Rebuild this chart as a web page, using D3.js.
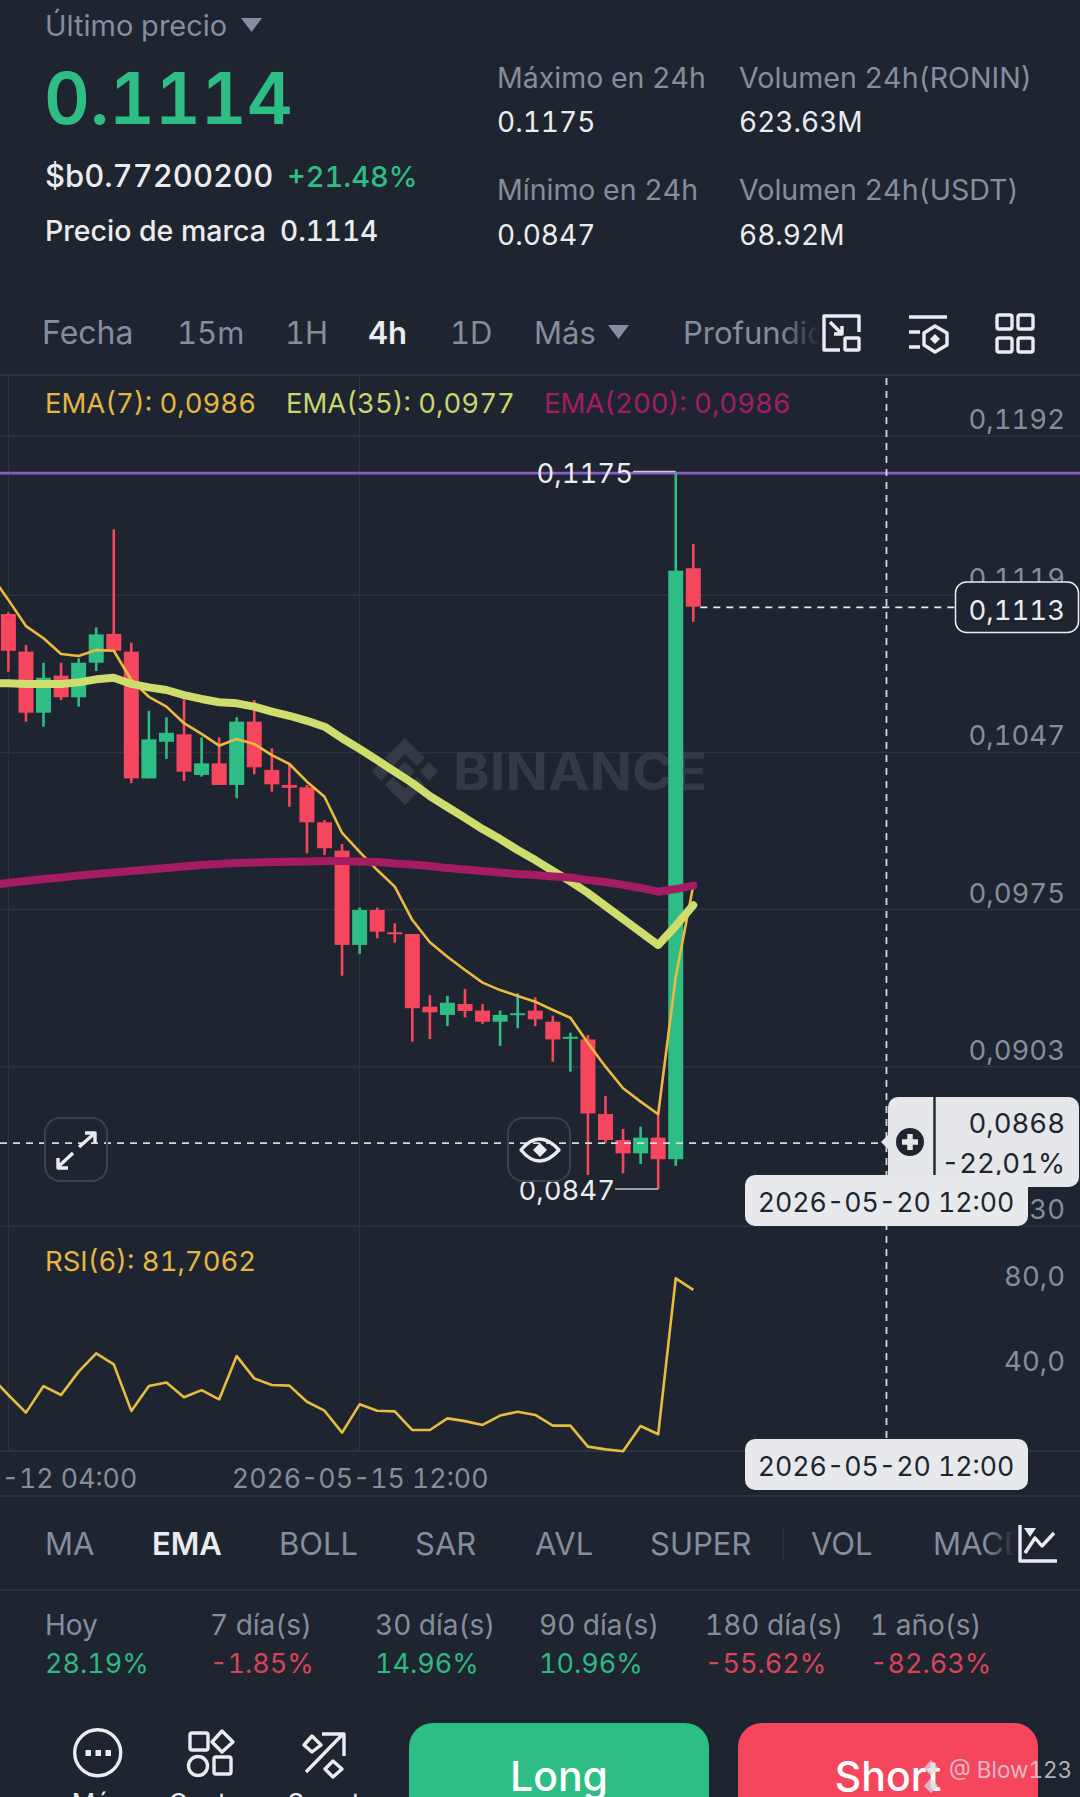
<!DOCTYPE html>
<html>
<head>
<meta charset="utf-8">
<style>
  html, body { margin: 0; padding: 0; background: #1e2530; }
  svg { display: block; font-family: Inter, "Noto Sans", sans-serif; font-variant-numeric: tabular-nums; font-feature-settings: "tnum"; }
  .grey { fill: #848e9c; }
  .white { fill: #eaecef; }
  .axis text { fill: #848e9c; font-size: 27.5px; font-family: Inter, "Noto Sans", sans-serif; }
  .axis .domain { display: none; }
  .icon { fill: none; stroke: #eaecef; stroke-width: 3.4; stroke-linejoin: round; }
</style>
</head>
<body>
<svg width="1080" height="1797"></svg>
<script src="https://cdn.jsdelivr.net/npm/d3@7/dist/d3.min.js"></script>
<script>
  // candles, oldest first. index 0 = 2026-05-12 04:00, 4h apart
  var opens = [0.11104,0.10932,0.10652,0.10822,0.10723,0.10881,0.11013,0.10932,0.10351,0.10519,0.10553,0.10367,0.10420,0.10321,0.10611,0.10390,0.10321,0.10310,0.10150,0.10020,0.09588,0.09748,0.09646,0.09638,0.09305,0.09267,0.09317,0.09287,0.09236,0.09267,0.09287,0.09236,0.09160,0.09155,0.08813,0.08694,0.08633,0.08705,0.08606,0.11314];
  var closes = [0.10936,0.10652,0.10812,0.10723,0.10881,0.11011,0.10936,0.10351,0.10530,0.10560,0.10382,0.10420,0.10321,0.10611,0.10402,0.10324,0.10308,0.10150,0.10031,0.09588,0.09748,0.09649,0.09638,0.09298,0.09279,0.09323,0.09285,0.09236,0.09267,0.09275,0.09247,0.09155,0.09167,0.08816,0.08694,0.08633,0.08705,0.08606,0.11303,0.11138];
  var highs = [0.11112,0.10962,0.10881,0.10881,0.10901,0.11043,0.11492,0.10973,0.10661,0.10631,0.10713,0.10539,0.10539,0.10631,0.10710,0.10489,0.10412,0.10321,0.10160,0.10050,0.09759,0.09759,0.09687,0.09638,0.09358,0.09355,0.09386,0.09317,0.09287,0.09366,0.09348,0.09264,0.09186,0.09175,0.08896,0.08745,0.08755,0.08809,0.1175,0.11425];
  var lows = [0.10840,0.10611,0.10588,0.10710,0.10680,0.10843,0.10932,0.10329,0.10351,0.10440,0.10339,0.10359,0.10321,0.10260,0.10370,0.10290,0.10221,0.10008,0.10000,0.09447,0.09546,0.09618,0.09598,0.09145,0.09157,0.09216,0.09256,0.09226,0.09125,0.09206,0.09216,0.09053,0.09007,0.08534,0.08679,0.08541,0.08584,0.0847,0.08575,0.11069];

  // moving averages start one candle before the left edge (index -1)
  var ema7 = [0.11283,0.11169,0.11049,0.10993,0.10921,0.10912,0.10939,0.10936,0.10802,0.10725,0.10680,0.10604,0.10555,0.10501,0.10532,0.10509,0.10458,0.10417,0.10336,0.10267,0.10101,0.10014,0.09931,0.09855,0.09702,0.09600,0.09534,0.09473,0.09415,0.09381,0.09354,0.09328,0.09290,0.09254,0.09139,0.09030,0.08931,0.08870,0.08812,0.09442,0.0986];
  var ema35 = [0.10788,0.10787,0.10784,0.10784,0.10784,0.10791,0.10805,0.10812,0.10784,0.10768,0.10756,0.10733,0.10715,0.10700,0.10695,0.10680,0.10657,0.10638,0.10615,0.10588,0.10535,0.10486,0.10435,0.10382,0.10330,0.10270,0.10220,0.10170,0.10119,0.10073,0.10023,0.09977,0.09927,0.09879,0.09826,0.09766,0.09707,0.09647,0.09588,0.09675,0.0977];
  var ema200 = [0.09863,0.09872,0.09881,0.09890,0.09897,0.09906,0.09913,0.09920,0.09927,0.09934,0.09940,0.09947,0.09954,0.09959,0.09963,0.09966,0.09968,0.09969,0.09970,0.09972,0.09972,0.09970,0.09968,0.09961,0.09956,0.09950,0.09940,0.09934,0.09927,0.09920,0.09913,0.09908,0.09902,0.09897,0.09885,0.09876,0.09863,0.09849,0.09832,0.09844,0.0986];
  var rsi6 = [40.8,32.2,23.9,36.4,32.2,43.2,51.8,46.6,24.7,36.4,38.1,31.1,34.5,30.1,50.5,40.0,36.9,36.6,29.0,24.8,14.5,27.8,24.8,24.5,15.7,15.7,21.2,19.9,18.1,22.5,24.3,22.8,17.8,17.8,7.9,6.6,5.7,17.6,13.7,87.1,81.7];

  var priceTicks = [0.1192,0.1119,0.1047,0.0975,0.0903,0.0830];
  var rsiTicks = [80,40];
  var timeTicks = [0,20];
  var timeLabels = ["2026-05-12 04:00","2026-05-15 12:00"];

  var dayHigh = 0.1175, dayLow = 0.0847, lastPrice = 0.1114, crossPrice = 0.0868, crossIndex = 50;
  var crossTime = "2026-05-20 12:00";

  var intervals = ["Fecha","15m","1H","4h","1D","Más","Profundidad"];
  var indicators = ["MA","EMA","BOLL","SAR","AVL","SUPER","VOL","MACD"];
  var periods = ["Hoy","7 día(s)","30 día(s)","90 día(s)","180 día(s)","1 año(s)"];
  var changes = ["28.19%","-1.85%","14.96%","10.96%","-55.62%","-82.63%"];

  var GREEN = "#2ebd85", RED = "#f6465d", BG = "#1e2530", GRID = "#2c333e";

  var svg = d3.select("svg");
  svg.append("rect").attr("width", 1080).attr("height", 1797).attr("fill", BG);

  var defs = svg.append("defs");
  var fade = defs.append("linearGradient").attr("id", "fade");
  fade.append("stop").attr("offset", 0).attr("stop-color", BG).attr("stop-opacity", 0);
  fade.append("stop").attr("offset", 1).attr("stop-color", BG);

  var x = d3.scaleLinear().domain([0, 39]).range([8.4, 693.3]);
  var y = d3.scaleLinear().domain([0.0830, 0.1192]).range([1226, 436]);
  var yRsi = d3.scaleLinear().domain([0, 80]).range([1463.4, 1293.4]);
  var comma = d3.formatLocale({decimal: ",", thousands: ".", grouping: [3], currency: ["", ""]});

  function label(txt, px, py, size, cls, weight, anchor) {
    return svg.append("text").attr("x", px).attr("y", py).attr("font-size", size)
      .attr("class", cls).attr("font-weight", weight || 400).attr("text-anchor", anchor || "start").text(txt);
  }

  //
  // header
  //
  label("Último precio", 45, 36, 29, "grey");
  svg.append("path").attr("d", "M241 18H262L251.5 32Z").attr("fill", "#848e9c");
  label("0.1114", 44, 124, 71, "", 600).attr("fill", GREEN);
  label("$b0.77200200", 45, 187, 31, "white", 500);
  label("+21.48%", 287, 187, 29, "", 500).attr("fill", GREEN);
  label("Precio de marca", 45, 241, 28.5, "white", 500);
  label("0.1114", 280, 241, 28, "white", 500);
  label("Máximo en 24h", 497, 88, 28.5, "grey");
  label("0.1175", 497, 132, 28, "white");
  label("Volumen 24h(RONIN)", 739, 88, 28.6, "grey");
  label("623.63M", 739, 132, 28, "white");
  label("Mínimo en 24h", 497, 200, 28.5, "grey");
  label("0.0847", 497, 245, 28, "white");
  label("Volumen 24h(USDT)", 739, 200, 28.6, "grey");
  label("68.92M", 739, 245, 28, "white");

  var intervalX = [42, 177, 285, 368, 450, 534, 683];
  intervals.forEach(function (t, i) {
    label(t, intervalX[i], 344, i == 0 ? 32 : 31, i == 3 ? "white" : "grey", i == 3 ? 600 : 400);
  });
  svg.append("path").attr("d", "M608 325H629L618.5 339Z").attr("fill", "#848e9c");
  svg.append("rect").attr("x", 780).attr("y", 310).attr("width", 40).attr("height", 50).attr("fill", "url(#fade)");
  svg.append("rect").attr("x", 820).attr("y", 310).attr("width", 260).attr("height", 50).attr("fill", BG);

  // toolbar icons
  svg.append("path").attr("class", "icon").attr("d", "M840 350H824V316H859V332M830 322L842 334M842 326V334H834");
  svg.append("rect").attr("class", "icon").attr("x", 845).attr("y", 338).attr("width", 14).attr("height", 12).attr("rx", 1);
  svg.append("path").attr("class", "icon").attr("d", "M909 317H947M909 332H920M909 347H920");
  svg.append("path").attr("class", "icon").attr("d", "M935 326L947 333V345L935 352L924 345V333Z");
  svg.append("path").attr("d", "M935 334L940 339L935 344L930 339Z").attr("fill", "#eaecef");
  [[998, 315], [1019, 315], [998, 338], [1019, 338]].forEach(function (p) {
    svg.append("rect").attr("class", "icon").attr("x", p[0] - 1).attr("y", p[1]).attr("width", 15).attr("height", 14).attr("rx", 2);
  });

  //
  // grid and watermark
  //
  [375, 1451, 1496, 1590].forEach(function (py) {
    svg.append("line").attr("x1", 0).attr("x2", 1080).attr("y1", py).attr("y2", py).attr("stroke", GRID).attr("stroke-width", 2);
  });

  svg.append("g").selectAll("line").data(priceTicks).enter().append("line")
    .attr("x1", 0).attr("x2", 1080)
    .attr("y1", function (d) { return y(d); }).attr("y2", function (d) { return y(d); })
    .attr("stroke", GRID).attr("stroke-width", 1.5);
  svg.append("g").selectAll("line").data(timeTicks).enter().append("line")
    .attr("x1", function (d) { return x(d); }).attr("x2", function (d) { return x(d); })
    .attr("y1", 375).attr("y2", 1451)
    .attr("stroke", GRID).attr("stroke-width", 1.5);

  var wm = svg.append("g").attr("fill", "#333a45");
  wm.append("path").attr("d", "M405 738L425 758L417 766L405 754L393 766L385 758Z");
  wm.append("path").attr("d", "M405 805L385 785L393 777L405 789L417 777L425 785Z");
  wm.append("path").attr("d", "M405 762L415 771.5L405 781L395 771.5Z");
  wm.append("path").attr("d", "M381 762L390 771.5L381 781L372 771.5Z");
  wm.append("path").attr("d", "M429 762L438 771.5L429 781L420 771.5Z");
  wm.append("text").attr("x", 453).attr("y", 790).attr("font-size", 52).attr("font-weight", 700)
    .attr("textLength", 254).attr("lengthAdjust", "spacingAndGlyphs").text("BINANCE");

  //
  // axes
  //
  var priceAxis = svg.append("g").attr("class", "axis").attr("transform", "translate(1065,0)")
    .call(d3.axisLeft(y).tickValues(priceTicks).tickSize(0).tickPadding(0).tickFormat(comma.format(".4f")));
  priceAxis.selectAll("text").attr("dy", -7.5);

  var rsiAxis = svg.append("g").attr("class", "axis").attr("transform", "translate(1065,0)")
    .call(d3.axisLeft(yRsi).tickValues(rsiTicks).tickSize(0).tickPadding(0).tickFormat(comma.format(".1f")));
  rsiAxis.selectAll("text").attr("dy", -8);

  var timeAxis = svg.append("g").attr("class", "axis").attr("transform", "translate(0,1451)")
    .call(d3.axisBottom(x).tickValues(timeTicks).tickSize(0).tickPadding(0)
      .tickFormat(function (d, i) { return timeLabels[i]; }));
  timeAxis.selectAll("text").attr("dy", 0).attr("y", 37).style("font-size", "26.7px");

  //
  // day high line and candles
  //
  svg.append("line").attr("x1", 0).attr("x2", 1080).attr("y1", y(dayHigh)).attr("y2", y(dayHigh))
    .attr("stroke", "#8e5bc6").attr("stroke-width", 2.6);

  var candle = svg.append("g").selectAll("g").data(opens).enter().append("g")
    .attr("fill", function (d, i) { return closes[i] >= opens[i] ? GREEN : RED; })
    .attr("stroke", function (d, i) { return closes[i] >= opens[i] ? GREEN : RED; });
  candle.append("line").attr("stroke-width", 2.6)
    .attr("x1", function (d, i) { return x(i); }).attr("x2", function (d, i) { return x(i); })
    .attr("y1", function (d, i) { return y(highs[i]); }).attr("y2", function (d, i) { return y(lows[i]); });
  candle.append("rect").attr("stroke", "none")
    .attr("x", function (d, i) { return x(i) - 7.5; }).attr("width", 15)
    .attr("y", function (d, i) { return y(Math.max(opens[i], closes[i])); })
    .attr("height", function (d, i) { return Math.max(2, Math.abs(y(opens[i]) - y(closes[i]))); });

  //
  // moving averages
  //
  function emaLine(values, color, width) {
    svg.append("path").datum(values)
      .attr("fill", "none").attr("stroke", color).attr("stroke-width", width)
      .attr("stroke-linejoin", "round").attr("stroke-linecap", "round")
      .attr("d", d3.line().x(function (d, i) { return x(i - 1); }).y(function (d) { return y(d); }));
  }
  emaLine(ema7, "#edb93f", 2.6);
  emaLine(ema35, "#cfdc6e", 8);
  emaLine(ema200, "#a51c63", 8);

  svg.append("text").attr("x", 45).attr("y", 413).attr("font-size", 27.5).attr("fill", "#e5b742").text("EMA(7): 0,0986");
  svg.append("text").attr("x", 286).attr("y", 413).attr("font-size", 27.5).attr("fill", "#c9d56e").text("EMA(35): 0,0977");
  svg.append("text").attr("x", 544).attr("y", 413).attr("font-size", 27.5).attr("fill", "#a51c63").text("EMA(200): 0,0986");

  //
  // RSI
  //
  svg.append("path").datum(rsi6)
    .attr("fill", "none").attr("stroke", "#e9bb3e").attr("stroke-width", 2.6).attr("stroke-linejoin", "round")
    .attr("d", d3.line().x(function (d, i) { return x(i - 1); }).y(function (d) { return yRsi(d); }));
  svg.append("text").attr("x", 45).attr("y", 1271).attr("font-size", 27.5).attr("fill", "#e5b742").text("RSI(6): 81,7062");

  //
  // crosshair, high / low tags, price tag
  //
  var dash = "7,6";
  svg.append("line").attr("x1", x(crossIndex)).attr("x2", x(crossIndex)).attr("y1", 378).attr("y2", 1451)
    .attr("stroke", "#d5d8dd").attr("stroke-width", 1.8).attr("stroke-dasharray", dash);
  svg.append("line").attr("x1", 0).attr("x2", x(crossIndex)).attr("y1", y(crossPrice)).attr("y2", y(crossPrice))
    .attr("stroke", "#d5d8dd").attr("stroke-width", 1.8).attr("stroke-dasharray", dash);
  svg.append("line").attr("x1", x(39) + 7).attr("x2", 955).attr("y1", y(0.11135)).attr("y2", y(0.11135))
    .attr("stroke", "#eaecef").attr("stroke-width", 1.8).attr("stroke-dasharray", dash);

  svg.append("rect").attr("x", 955.5).attr("y", 582).attr("width", 123).attr("height", 50.5).attr("rx", 11)
    .attr("fill", BG).attr("stroke", "#eaecef").attr("stroke-width", 1.5);
  svg.append("text").attr("x", 1065).attr("y", 620).attr("text-anchor", "end").attr("font-size", 27.5)
    .attr("class", "white").text(comma.format(".4f")(0.1113));

  svg.append("line").attr("x1", 633).attr("x2", x(38)).attr("y1", y(dayHigh) - 1.5).attr("y2", y(dayHigh) - 1.5)
    .attr("stroke", "#c9ccd2").attr("stroke-width", 1.5);
  svg.append("text").attr("x", 633).attr("y", 483).attr("text-anchor", "end").attr("font-size", 27.5)
    .attr("class", "white").text(comma.format(".4f")(dayHigh));
  svg.append("line").attr("x1", 615).attr("x2", x(37)).attr("y1", y(dayLow)).attr("y2", y(dayLow))
    .attr("stroke", "#c9ccd2").attr("stroke-width", 1.5);
  svg.append("text").attr("x", 615).attr("y", 1200).attr("text-anchor", "end").attr("font-size", 27.5)
    .attr("class", "white").text(comma.format(".4f")(dayLow));

  // round buttons on the chart
  [[45, 1118], [508, 1118]].forEach(function (p) {
    svg.append("rect").attr("x", p[0]).attr("y", p[1]).attr("width", 62).attr("height", 63).attr("rx", 15)
      .attr("fill", "none").attr("stroke", "#3a414d").attr("stroke-width", 2);
  });
  svg.append("path").attr("class", "icon").attr("d", "M79 1147L95 1133M85 1133H95V1143M58 1167L73 1153M58 1158V1168H68");
  svg.append("path").attr("class", "icon").attr("d", "M521 1150Q539 1128 559 1150Q539 1172 521 1150Z");
  svg.append("path").attr("d", "M540 1143L547 1150L540 1157L533 1150Z").attr("fill", "#eaecef");

  // crosshair tooltip
  var PANEL = "#e4e6ea", INK = "#1e2530";
  svg.append("path").attr("d", "M890 1133L881 1142L890 1151Z").attr("fill", PANEL);
  svg.append("rect").attr("x", 888).attr("y", 1097).attr("width", 191).attr("height", 90).attr("rx", 10).attr("fill", PANEL);
  svg.append("line").attr("x1", 934.5).attr("x2", 934.5).attr("y1", 1097).attr("y2", 1177).attr("stroke", INK).attr("stroke-width", 2.4);
  svg.append("circle").attr("cx", 910).attr("cy", 1142).attr("r", 14).attr("fill", INK);
  svg.append("path").attr("d", "M910 1134V1150M902 1142H918").attr("stroke", PANEL).attr("stroke-width", 5.5);
  svg.append("text").attr("x", 1065).attr("y", 1133).attr("text-anchor", "end").attr("font-size", 27.5).attr("fill", INK)
    .text(comma.format(".4f")(crossPrice));
  svg.append("text").attr("x", 1065).attr("y", 1173).attr("text-anchor", "end").attr("font-size", 27.5).attr("fill", INK).text("-22,01%");

  [[1175, 1212], [1439, 1476]].forEach(function (p) {
    svg.append("rect").attr("x", 745).attr("y", p[0]).attr("width", 283).attr("height", 51).attr("rx", 10).attr("fill", "#e7e9ec");
    svg.append("text").attr("x", 886).attr("y", p[1]).attr("text-anchor", "middle").attr("font-size", 26.7).attr("fill", INK).text(crossTime);
  });

  //
  // indicator tabs
  //
  var indicatorX = [45, 152, 279, 415, 535, 650, 811, 933];
  indicators.forEach(function (t, i) {
    label(t, indicatorX[i], 1555, 31, i == 1 ? "white" : "grey", i == 1 ? 600 : 400);
  });
  svg.append("line").attr("x1", 783).attr("x2", 783).attr("y1", 1527).attr("y2", 1560).attr("stroke", GRID).attr("stroke-width", 1.5);
  svg.append("rect").attr("x", 985).attr("y", 1520).attr("width", 30).attr("height", 50).attr("fill", "url(#fade)");
  svg.append("rect").attr("x", 1015).attr("y", 1520).attr("width", 65).attr("height", 50).attr("fill", BG);
  svg.append("path").attr("class", "icon").attr("d", "M1020 1525V1561H1057");
  svg.append("path").attr("class", "icon").attr("stroke-width", 2.6).attr("d", "M1025 1553L1035 1538L1042 1546L1054 1533");
  svg.append("path").attr("d", "M1024 1528H1036L1030 1537Z").attr("fill", "#eaecef");

  //
  // period changes
  //
  var periodX = [45, 210, 375, 539, 705, 870];
  periods.forEach(function (t, i) {
    label(t, periodX[i], 1635, 28, "grey");
    label(changes[i], periodX[i], 1673, 27, "").attr("fill", changes[i][0] == "-" ? "#d8435a" : "#2eb886");
  });

  //
  // bottom bar
  //
  svg.append("path").attr("class", "icon").attr("d", "M120.7 1752.7A23 23 0 1 1 74.7 1752.7A23 23 0 1 1 120.7 1752.7Z");
  [88, 98, 108].forEach(function (px) {
    svg.append("rect").attr("x", px - 2.5).attr("y", 1750).attr("width", 5.5).attr("height", 6).attr("fill", "#eaecef");
  });
  svg.append("rect").attr("class", "icon").attr("x", 190).attr("y", 1733).attr("width", 18).attr("height", 17).attr("rx", 2);
  svg.append("path").attr("class", "icon").attr("d", "M222 1731L233 1742L222 1752L212 1742Z");
  svg.append("circle").attr("class", "icon").attr("cx", 198).attr("cy", 1766).attr("r", 9.5);
  svg.append("rect").attr("class", "icon").attr("x", 214).attr("y", 1757).attr("width", 17).attr("height", 17).attr("rx", 2);
  svg.append("path").attr("class", "icon").attr("d", "M306 1772L342 1735M322 1734H344V1756");
  svg.append("path").attr("class", "icon").attr("d", "M312 1736L321 1745L312 1752L304 1745Z");
  svg.append("path").attr("class", "icon").attr("d", "M333 1761L342 1769L333 1777L325 1769Z");
  label("Más", 97.7, 1812, 26, "white", 400, "middle");
  label("Centro", 210, 1812, 26, "white", 400, "middle");
  label("Smart", 324, 1812, 26, "white", 400, "middle");

  svg.append("rect").attr("x", 409).attr("y", 1723).attr("width", 300).attr("height", 120).attr("rx", 24).attr("fill", GREEN);
  svg.append("rect").attr("x", 738).attr("y", 1723).attr("width", 300).attr("height", 120).attr("rx", 24).attr("fill", RED);
  label("Long", 559, 1791, 41, "", 500, "middle").attr("fill", "#fff");
  label("Short", 888, 1791, 41, "", 500, "middle").attr("fill", "#fff");

  // repost watermark
  svg.append("path").attr("d", "M931 1760L938 1768L931 1776L924 1768Z M931 1778L938 1786L931 1793L924 1786Z").attr("fill", "#d9dbe0").attr("fill-opacity", 0.75);
  svg.append("text").attr("x", 949).attr("y", 1778).attr("font-size", 22.5).attr("fill", "#d9dbe0").attr("fill-opacity", 0.8).text("@ Blow123");
</script>
</body>
</html>
